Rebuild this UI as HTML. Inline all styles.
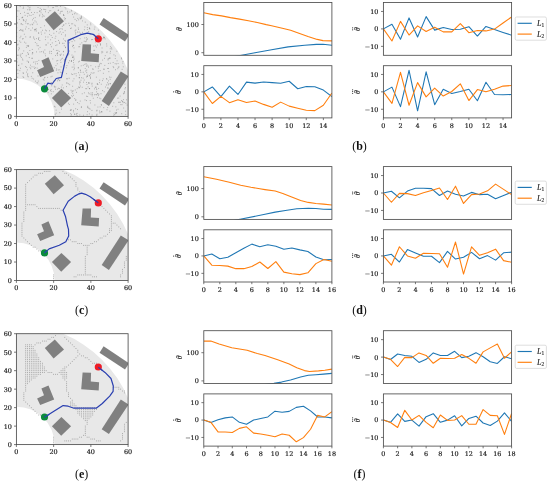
<!DOCTYPE html>
<html><head><meta charset="utf-8"><title>Figure</title>
<style>
html,body{margin:0;padding:0;background:#fff}
svg{display:block}
text{font-family:"DejaVu Serif", "Liberation Serif", serif;fill:#222}
.tl{font-size:6.45px;fill:#1a1a1a;stroke:#1a1a1a;stroke-width:0.18px}
.th{font-size:7.8px;font-style:italic;font-family:"Liberation Serif",serif;stroke:#222;stroke-width:0.15px}
.dt{font-size:5.4px;font-style:normal;font-weight:bold}
.lg{font-size:8px;font-style:italic;font-family:"Liberation Serif",serif;stroke:#222;stroke-width:0.12px}
.sb{font-size:5.4px;font-style:normal}
.cap{font-size:12px;fill:#111;font-family:"Liberation Serif",serif}
</style></head><body>
<svg width="550" height="483" viewBox="0 0 550 483">
<rect width="550" height="483" fill="#fff"/>
<clipPath id="c0"><rect x="16.4" y="5.5" width="111.7" height="110.9"/></clipPath>
<g clip-path="url(#c0)">
<path d="M16.4,-3.74 A121.01,120.14 0 0 1 137.41,116.4 L54.56,116.4 A38.16,37.89 0 0 0 16.4,78.51 Z" fill="#e8e8e8"/>
<polygon points="54.8,11.2 64,21.2 53.6,30.2 44.8,19.7" fill="#808080"/>
<polygon points="103.6,18.1 129.1,35 125,41.4 99.5,24.5" fill="#808080"/>
<polygon points="82.6,44.3 91.1,44.5 90.8,53.3 99.1,54 98.7,62.3 81.2,61.1" fill="#808080"/>
<polygon points="41.4,60.4 48.5,57.2 54.2,71.2 40.2,76.9 37.1,70.2 44,67.1" fill="#808080"/>
<polygon points="61.4,88.8 71.1,98 61.2,107.6 51.9,98" fill="#808080"/>
<polygon points="120.8,71.4 128.6,76.2 108.9,105.9 101.7,101" fill="#808080"/>
<path d="M89.11,108.37h0M76.26,75.85h0M22.88,60.13h0M20.59,68.31h0M63.82,24.7h0M80.86,72.41h0M125.45,111.23h0M36.59,51.9h0M87.77,75.1h0M77.58,109.44h0M92.4,68.98h0M51.49,51.46h0M67.02,83.16h0M105.13,38.88h0M43.67,52.7h0M75.06,19.35h0M97.88,84.47h0M125.89,103.31h0M63.1,32.43h0M33.38,62.17h0M20.78,42.29h0M101.8,52.85h0M94.06,50.48h0M81.17,65.81h0M69.36,42.75h0M23.18,38.6h0M108.21,84.84h0M59.49,42.25h0M18.92,65.2h0M22.99,31.2h0M25.4,66.59h0M77.77,18.43h0M123.38,99.66h0M82.21,87.26h0M16.86,69.94h0M57.65,53.59h0M73.98,47.91h0M91.93,110.41h0M60.23,72.15h0M27.97,46.06h0M27.73,76.08h0M19.25,19.44h0M84.99,99.93h0M44.58,77.87h0M68.45,62.74h0M54.67,87.04h0M18.98,10.94h0M75.41,100.14h0M77.07,113.4h0M35.06,30.79h0M75.89,30h0M53.22,91.66h0M56.12,113.19h0M45.35,39.6h0M123.24,66.8h0M110.28,63.23h0M89.34,27.72h0M25.87,43.14h0M100.19,63.39h0M36.34,28.88h0M61.23,11.4h0M97.36,97.55h0M32.73,24.74h0M55.54,55.55h0M75.22,12.86h0M64.86,19.72h0M44.53,83.91h0M43.27,51.36h0M31.04,15.48h0M55.92,65.59h0M81.56,16.11h0M63.38,14.62h0M72.43,57.42h0M74.88,114.33h0M16.84,27.77h0M35.65,63.89h0M52.81,58.92h0M78.44,29.42h0M28.25,54.26h0M44.16,85.69h0M102.66,60.09h0M79.15,32.12h0M118.32,67.24h0M73.61,39.58h0M66.93,57.26h0M69.8,11.99h0M29.99,67.37h0M24.57,42.16h0M33.65,36.98h0M90.15,100.54h0M40.93,10.77h0M60.89,62.36h0M34.44,68.54h0M73.99,78.79h0M38.26,81.08h0M97.06,114.24h0M78.29,67.55h0M23.58,7.15h0M20.82,30.01h0M63.57,15.32h0M107.88,87.72h0M33.08,14.46h0M80.14,38.72h0M93.27,69.23h0M24.49,12.34h0M87.27,27.5h0M25.75,21.44h0M23.84,20.72h0M67.09,78.79h0M75.26,89.96h0M51.25,82.57h0M101.24,84.24h0M72.26,96.67h0M55.16,114.39h0M37.56,63.75h0M120.8,104.61h0M107.87,68.47h0M71.69,23.84h0M60.31,60.21h0M95.34,45.87h0M61.6,77.86h0M24.3,34.24h0M25.84,23.1h0M47.89,89.54h0M34,66.96h0M45.8,9.74h0M43.7,9.31h0M50.98,76.85h0M16.52,74.08h0M69.42,60.64h0M38.85,60.42h0M26.43,72.09h0M50.38,90.58h0M100.24,43.48h0M59.91,80.23h0M126.39,99.82h0M97.29,45.07h0M21.29,23.77h0M31.96,58.32h0M72.74,23.81h0M81.64,17.39h0M92.68,39.51h0M31.27,76.4h0M28.12,23.71h0M78.79,46.78h0M86.35,40.91h0M71.05,116.03h0M72.58,57.05h0M90.04,109.08h0M98.7,88.43h0M97.87,93.64h0M71.57,73.97h0M69.91,40.58h0M102.07,47.98h0M88.2,107.81h0M99.42,82.64h0M79.82,115.02h0M91.46,39.64h0M91.88,84.14h0M74.1,64.87h0M68.49,103.26h0M18.36,65.5h0M66.6,86.61h0M39.84,11.53h0M39.94,51.91h0M32.23,58.28h0M122.82,101.69h0M108.02,59.98h0M42.25,16.84h0M70.7,113.65h0M16.8,61.87h0M66.75,82.91h0M32.12,78.25h0M16.59,33.14h0M57.98,72.83h0M56.69,68.93h0M27.76,23.83h0M48.3,12.64h0M44.25,86.93h0M73.47,95.35h0M58.1,10.36h0M96.78,110.91h0M98.2,66.4h0M100.47,44.93h0M119.92,102.28h0M69.14,78.29h0M49.66,34.44h0M125.45,87.55h0M89.67,83.04h0M78.65,72.66h0M39.62,15.93h0M71.92,92h0M54.6,106.3h0M43.11,87.75h0M80.03,18h0M100.14,70.62h0M62.63,58.27h0M58.5,78.89h0M124.49,102.44h0M72.63,46.57h0M46.67,88.85h0M61.05,66.95h0M113.9,113.98h0M20,37.72h0M116.45,63.91h0M81.99,116.38h0M60.13,13.61h0M125,88.85h0M74.75,40.76h0M88.71,31.58h0M67.48,55.24h0M20.82,29.64h0M42.38,14.38h0M88.5,82.71h0M87.47,38.93h0M74.98,51.76h0M83.54,115.24h0M115.12,63.69h0M72.06,41.6h0M63.32,87.87h0M92.64,94.43h0M72.79,93.64h0M41.14,32.06h0M49.34,10.83h0M71.78,95.63h0M32.75,72.77h0M40.19,8.37h0M23.12,72.78h0M37.12,12.61h0M99.76,112.86h0M90.62,74.41h0M58.16,79.61h0M47.65,77.42h0M123.13,102.68h0M124.11,93.4h0M108.22,68.44h0M21.9,63.89h0M37.96,76h0M116.59,113.04h0M62.29,26.37h0M102.04,111.89h0M54.27,86.2h0M45.68,36.93h0M51.75,85.83h0M16.82,32.6h0M121.76,113.71h0M59.57,88.56h0M64.42,61.67h0M120.07,96.11h0M84.23,80.05h0M52.09,76.27h0M103.78,107.64h0M38.44,32.9h0M20.18,55.12h0M52.79,7.69h0M27.17,61.12h0M95.68,66.83h0M85.69,41.64h0M90.62,102.96h0M110.33,83.82h0M79.72,75.04h0M98.84,94.31h0M44.04,89.19h0M33.53,18.35h0M80.99,80.21h0M60.64,6.34h0M73.07,90.74h0M106.7,43.95h0M127.09,105.05h0M69.43,25.56h0M113.15,66.59h0M45.44,30.14h0M122.03,104.67h0M44.87,49.92h0M89.19,93.84h0M92.17,95.87h0M51.27,93.84h0M105.23,55.62h0M60.55,55.39h0M87.8,106.29h0M34.68,39.28h0M62.17,84.98h0M50.76,10.69h0M51.29,53.57h0M56.3,70.22h0M97.72,93.81h0M17.06,16.41h0M63.73,25.42h0M18.06,55.23h0M26.34,47.4h0M57.82,60.46h0M74.61,13.76h0M28.55,62h0M70.32,110.48h0M104.18,91.77h0M74.25,73.86h0M20.99,54.04h0M101.01,112.17h0M86.44,82.44h0M63.32,51.79h0M63.96,43.33h0M66.31,67.79h0M19.01,47.76h0M71.08,90.31h0M69.26,104.53h0M30.75,68.65h0M26.64,67.39h0M73.39,111.88h0M87.49,107.28h0M98.33,30.16h0M73.53,110.38h0M72.69,74.5h0M122.61,101.3h0M38.04,7.53h0M71.34,10.31h0M118.72,98.09h0M23.72,77.49h0M100.87,98.79h0M72.5,14.38h0M72.92,81.01h0M34.41,12.55h0M35.25,29.36h0M29.25,57.54h0M87.48,76.5h0M113.91,54.83h0M81.19,18.53h0M28.08,6.28h0M86.75,72.68h0M105.5,87.04h0M56.64,31.6h0M99.46,111.04h0M107.97,88.27h0M81.84,42.8h0M85.21,68.47h0M73.67,17.08h0M89.35,113.93h0M16.69,77.03h0M28.28,76.79h0M41.45,51.68h0M82.2,93.76h0M86.09,63.73h0M31.45,12.53h0M27.1,45.62h0M61.3,87.1h0M17.68,44.88h0M79.21,77.55h0M88.51,67.19h0M44.16,16.2h0M21.32,57.45h0M22.92,30.02h0M17.78,55.3h0M121.5,100.62h0M38.69,48.96h0M73.03,45.25h0M50.96,83.1h0M21.82,17.77h0M103.86,37.06h0M17.11,22.75h0M99.64,64.8h0M99.25,66.22h0M53.88,33.26h0M95.9,86.9h0M78.26,68.04h0M104.47,58.37h0M46.03,45.2h0M124.21,92.34h0M114.7,114.71h0M45.48,90.22h0M99.75,80.15h0M43.12,15.75h0M86.85,39.56h0M68.84,23.28h0M65.24,36.04h0M80.11,82.27h0M40.08,47.35h0M25.09,15.39h0M28.32,13.38h0M93.77,46.1h0M94.26,34.69h0M23.75,50.92h0M23.77,20.16h0M87.24,24.9h0M86.94,84.53h0M101,93.67h0M47.97,37.02h0M57.51,80.82h0M111.5,47.83h0M19.86,70.61h0M65.15,30.67h0M55.14,38.25h0M76.48,92.38h0M112.71,106.32h0M16.89,61.97h0M71.3,28.04h0M37.01,61.55h0M45.51,11.72h0M48.09,92.59h0M28.68,45.81h0M25.43,29.02h0M94.27,29.13h0M86.54,76.96h0M61.22,72.64h0M115.86,106.84h0M115.64,113.61h0M117.07,60.82h0M75.77,32.73h0M100.51,44.73h0M55.33,80.17h0M33.75,22.9h0M90.36,34.11h0M35.34,67.74h0M102.79,52.17h0M30.48,65.16h0M37.8,82.96h0M44.05,80.18h0M74.73,98.55h0M27.77,9.67h0M27.75,73.79h0M98.31,68.17h0M38.31,45.65h0M59.78,112.64h0M60.97,28.68h0M87.04,65.02h0M32.24,49.45h0M61.61,34.23h0M117.82,68.71h0M80.51,33.32h0M102.86,38.76h0M88.06,66.06h0M51.36,46.72h0M27.33,69.87h0M103.79,37.31h0M86.73,88.67h0M63.71,65.92h0M85.83,71h0M36.85,43.82h0M103.32,73.29h0M20.66,56.14h0M34.37,29.7h0M121.46,58.82h0M27.69,52.68h0M76.83,36.85h0M73.61,45.51h0M109,58.54h0M62.24,11.27h0M39.87,40.5h0M60.24,31.82h0M30.07,7.22h0M56.11,110.12h0M17.89,69.98h0M63.38,38.96h0M55.73,86.99h0M41.47,34.17h0M121.39,57.95h0M40.85,27.52h0M30.84,30.27h0M106.83,46.06h0M68.81,54.07h0M41.64,9.51h0M55.84,45.56h0M68.69,83.76h0M77.64,102.52h0M109.53,77.06h0M58.42,88.28h0M16.7,36.35h0M47.81,89.23h0M64.26,45.72h0M90.04,76.21h0M22.77,24.59h0M32.08,24.21h0M87.12,114.74h0M17.68,10.85h0M89.67,88.67h0M42.5,30.31h0M35.16,17.57h0M84.35,29.76h0M38.45,39.57h0M75.69,34.12h0M65.39,18.51h0M78.4,87.07h0M71.48,109.92h0M71.29,61.15h0M76.67,20.71h0M17.14,23.16h0M68.67,54.01h0M90.71,23.18h0M58.28,69.95h0M123.7,108.04h0M19.59,48.79h0M53.31,7.53h0M73.44,62.65h0M116.66,112.64h0M96.62,47.06h0M57.3,63.77h0M75.1,30.94h0M63.58,54.96h0M108.75,83.92h0M108.86,71.63h0M72.67,86.27h0M89.51,28.57h0M53.36,81.23h0M49.82,51.36h0M87.31,29.43h0M20.87,36.26h0M115.32,55.92h0M89.9,28.9h0M94.19,50.27h0M92.47,92.83h0M90.9,65.62h0M101.59,105.16h0M89.64,75.49h0M79.19,87.79h0M22.5,53.46h0M106.91,52.6h0M119.01,66.89h0M17.98,73.47h0M88.39,92.86h0M16.93,40.57h0M29.99,9.23h0M26.25,19.97h0M96.75,89.53h0M98.34,95.62h0M22,30.56h0M97.91,107.05h0M86.62,37.75h0M67.85,13h0M44.78,9.46h0M96.51,115.14h0M18.05,44.24h0M107.7,107.56h0M51.15,35.5h0M34.94,20.92h0M70.72,109.77h0M57.46,52.64h0M65.41,41.33h0M32.59,27.97h0M56.98,44.88h0M86.74,70.05h0M59.49,29.21h0M79.71,83.97h0M23.17,8.39h0M53.49,49.21h0M83.55,82.18h0M64.27,17.91h0M58.47,40.45h0M106.6,84.98h0M63.59,51.34h0M21.12,23.99h0M80.28,86.03h0M55.14,106.97h0M78.25,27.97h0M38.79,33.2h0M84.19,41.25h0M68.38,93.49h0M44.85,33.1h0M104.83,65.42h0M26.2,26.95h0M102.65,90.58h0M81.14,16.93h0M115.26,58.53h0M69.63,51.04h0M36.58,38.65h0M56.93,53.8h0M61.36,59.04h0M28.25,46.23h0M83.11,78.15h0M74.42,114.12h0M20.15,6.56h0M113.14,62.47h0M79.75,87.39h0M103.44,69.16h0M78.66,19.84h0M67.59,11.35h0M118.04,109.28h0M83.2,72.33h0M29.79,10.01h0M45.13,53.8h0M91.21,72.8h0M44.98,77.36h0M109.92,111.18h0M104.24,37.7h0M92.01,83.26h0M82.47,32.35h0M92.09,115h0M96.51,94.76h0M20.42,13.52h0M41.04,12.82h0M32.01,66.8h0M27.23,13.4h0M110.48,46.71h0M66.93,78.72h0M108.34,63.44h0M86.57,100.57h0M32.56,19.84h0M110.18,79.3h0M35.14,61.95h0M29.15,7.87h0M22.75,17.14h0M91.05,92.98h0M69.73,84.66h0M57.09,6.5h0M116.51,110.03h0M97.55,83.85h0M125.71,114.62h0M106.54,78.59h0M109.36,58h0M37.16,68.13h0M80.22,101.09h0M36.52,30.96h0M95.89,94.58h0M84.81,37.91h0M107.05,51.75h0M98.24,71.14h0M97.01,110.26h0M106.95,79.22h0M71.47,114.69h0M118.07,63.54h0M37.18,24.17h0M57.86,50.43h0M16.92,58.75h0M66.19,59.22h0M29.89,37.15h0M52.25,37.53h0M59,33.08h0M23.24,19.61h0M122.97,61.53h0M73.74,57.57h0M76.42,114.11h0M124.46,91.59h0M44.38,25.78h0M94.47,94.77h0M18.38,49.93h0M94.89,104.99h0M71.53,60.87h0M82.51,20.91h0M32.84,52.87h0M99.79,98.18h0M59.82,69.77h0M110.2,58.11h0M60.59,12.01h0M103.18,78.85h0M43.25,79.24h0M65.05,7.58h0M22.38,59.02h0M87.07,75.98h0M75.69,108.72h0M64.77,60.42h0M115.21,112.59h0M88.06,86.93h0M92.18,86.08h0M76.97,13.89h0M85.79,88.61h0M74.52,68.3h0M50.51,44.59h0M29.85,50.49h0M76.03,99.94h0M48.6,89.41h0M26.21,55.81h0M110.2,48.76h0M80.09,44.28h0M38.87,37.62h0M67.88,55.62h0M84.85,64.39h0M51.08,89.53h0M59.2,51.45h0M17.73,77.29h0M78.58,61.9h0M48.21,6.89h0M49.41,30.77h0M113.72,67.61h0M23.33,73.38h0M65.54,34.84h0M33.66,79.02h0M55.77,41.5h0M85.24,22.14h0M108.13,58.98h0M98.92,33.97h0M101.26,63.7h0M104.08,37.82h0M118.57,102.29h0M113.67,115.92h0M101.93,51.43h0M80.29,70.05h0M84.24,74.31h0M66.92,65.62h0M97.17,83.92h0M60.04,54.81h0M59.35,80.69h0M72.2,67.16h0M36.98,82.68h0M32.6,52.58h0M81.36,106.65h0M123.49,93.74h0M64.03,15.42h0M79.5,61.25h0M74.2,59.04h0M92.94,73.2h0M56.36,50.45h0M27.45,74.88h0M61.18,54.15h0M80.52,18.83h0M65.57,47.13h0M75.62,25.92h0M35.47,81.13h0M73.66,104.14h0M115.61,69.72h0M73.55,60.41h0M55.85,6.19h0M87.5,111.71h0M62.36,29.05h0M50.66,39.8h0M110.47,51.39h0M91.03,94.59h0M72.01,55.04h0M46.11,44.67h0M80.57,70.81h0M101.24,104.57h0M74.76,25.11h0M84.87,26.95h0M102.47,80.6h0M96.32,77.16h0M27.51,16.16h0M81.44,77.71h0M66.65,73.63h0M22.51,17.64h0M65.51,47.62h0M107.54,82.72h0M71.75,11.08h0M96.65,91.85h0M70.51,28.48h0M124.92,84.16h0M79.12,103.66h0M76.02,73.64h0M61.44,109.14h0M30.17,24.82h0M55.63,89.24h0M90.6,78.54h0M33.81,38.12h0M65.92,23.65h0M55.82,36.28h0M58.5,10.11h0M39.64,10.94h0M72.79,91.2h0M95.31,87.48h0M116.89,51.24h0M57.51,89.09h0M84.34,92.83h0M113.85,102.78h0M73.71,56.23h0M46.6,30.81h0M59.38,43.48h0M79.81,81.93h0M36.18,22.02h0M52.26,42.9h0M28.57,54.08h0M56.78,60.91h0M51.17,91.29h0M30.49,36.92h0M19.7,41.03h0M90.53,77.43h0M62.48,43.31h0M94.51,88.85h0M110.98,77.35h0M86.64,96.25h0M29.27,15.18h0M98.39,37.37h0M87.7,96.47h0M110.17,53.17h0M96.45,88.15h0M64.98,40.51h0M55.39,116.29h0M111.81,49.04h0M28.82,28.63h0M39.87,14.98h0M100.12,106.85h0M94,72.75h0M122.11,69.38h0M86.56,66.19h0M22.47,38.96h0M64.25,59.63h0M120.07,102.24h0M101.51,111.55h0M94.9,27.04h0M45.58,55.8h0M77.16,88.71h0M23.03,76.72h0M95.37,42.06h0M73.97,67.05h0M32.25,53.93h0M77.64,32.06h0M35.3,42.48h0M83.27,65.26h0M38.42,38.59h0M25.78,36.87h0M28.55,62.18h0M77.06,115.48h0M89.3,88.52h0M19.49,30.51h0M110.18,83.54h0M37.15,45.63h0M35.22,29.39h0M108.59,80.89h0M57.56,55.28h0M79.72,46.73h0M71.62,61h0M81.31,107.5h0M93.25,98.25h0M65.9,8.85h0M97.15,116.09h0M104.3,69.22h0M48.04,43.03h0M73.88,69.69h0M54.23,67.75h0M90.8,24.79h0M117.38,98.16h0M79.33,77.8h0M107.01,109.75h0M49.58,53.06h0M122.83,63.09h0M88.71,83.21h0" stroke="#444" stroke-opacity="0.66" stroke-width="0.62" stroke-linecap="round" fill="none"/>
<polyline points="44.5,88.8 47.9,83.1 52.1,84 56.2,78.5 61.4,77.4 63.5,68.6 65.5,59.3 68.3,52.5 68.1,40.4 80.7,34.7 87.4,33.1 93.1,34.3 98.3,38.8" fill="none" stroke="#2a3fb0" stroke-width="1.2" stroke-linejoin="round"/>
<circle cx="98.3" cy="38.8" r="3.6" fill="#ee1c25"/>
<circle cx="44.5" cy="88.8" r="3.6" fill="#0b8a3c"/>
<polyline points="44.5,88.8 46.54,85.38" fill="none" stroke="#2a3fb0" stroke-width="1.2"/>
<polyline points="98.3,38.8 95.18,36.1" fill="none" stroke="#2a3fb0" stroke-width="1.2"/>
</g>
<rect x="16.4" y="5.5" width="111.7" height="110.9" fill="none" stroke="#4d4d4d" stroke-width="0.85"/>
<text x="11.9" y="118.8" text-anchor="end" class="tl">0</text>
<text x="11.9" y="100.32" text-anchor="end" class="tl">10</text>
<text x="11.9" y="81.83" text-anchor="end" class="tl">20</text>
<text x="11.9" y="63.35" text-anchor="end" class="tl">30</text>
<text x="11.9" y="44.87" text-anchor="end" class="tl">40</text>
<text x="11.9" y="26.38" text-anchor="end" class="tl">50</text>
<text x="11.9" y="7.9" text-anchor="end" class="tl">60</text>
<text x="16.4" y="126.1" text-anchor="middle" class="tl">0</text>
<text x="53.63" y="126.1" text-anchor="middle" class="tl">20</text>
<text x="90.87" y="126.1" text-anchor="middle" class="tl">40</text>
<text x="128.1" y="126.1" text-anchor="middle" class="tl">60</text>
<path d="M16.4,116.4h-2.4M16.4,97.92h-2.4M16.4,79.43h-2.4M16.4,60.95h-2.4M16.4,42.47h-2.4M16.4,23.98h-2.4M16.4,5.5h-2.4M16.4,116.4v2.4M53.63,116.4v2.4M90.87,116.4v2.4M128.1,116.4v2.4" stroke="#4d4d4d" stroke-width="0.75" fill="none"/>
<clipPath id="k1"><rect x="203.8" y="2.5" width="128.1" height="52.8"/></clipPath>
<g clip-path="url(#k1)" fill="none" stroke-width="1.08" stroke-linejoin="round">
<polyline points="203.8,12.7 212.7,14.6 221.6,15.9 230.5,17.6 239.5,19.1 248.4,20.7 257.3,22.5 266.2,24.6 271.6,25.7 282.3,28.2 290.6,30.3 298.9,33.2 308,36.5 317.2,39.4 323,40.6 332.1,40.9" stroke="#ff7f0e"/>
<polyline points="203.8,62.1 241.6,55.2 255,52.8 271.6,49.7 288.1,46.9 304.7,45.2 316.3,44.4 323,44.3 332.1,45.2" stroke="#1f77b4"/>
</g>
<rect x="203.8" y="2.5" width="128.1" height="52.8" fill="none" stroke="#4d4d4d" stroke-width="0.85"/>
<text x="198.8" y="55.1" text-anchor="end" class="tl">0</text>
<text x="198.8" y="26.9" text-anchor="end" class="tl">100</text>
<path d="M203.8,52.7h-2.4M203.8,24.5h-2.4" stroke="#4d4d4d" stroke-width="0.75" fill="none"/>
<text transform="translate(182,29.2) rotate(-90)" class="th"><tspan x="-1.9" y="0">θ</tspan></text>
<clipPath id="k2"><rect x="203.8" y="65.7" width="128.1" height="52.2"/></clipPath>
<g clip-path="url(#k2)" fill="none" stroke-width="1.08" stroke-linejoin="round">
<polyline points="203.8,91.85 212.34,86.98 220.88,96.55 229.42,86.11 237.96,94.46 246.5,82.11 255.04,83.15 263.58,81.93 272.12,82.63 280.66,83.32 289.2,81.24 297.74,88.72 306.28,86.46 314.82,86.8 323.36,90.11 331.9,96.55" stroke="#1f77b4"/>
<polyline points="203.8,91.85 212.34,103.51 220.88,96.37 229.42,102.64 237.96,99.68 246.5,102.46 255.04,101.07 263.58,104.38 272.12,107.16 280.66,102.12 289.2,106.12 297.74,108.21 306.28,110.29 314.82,110.64 323.36,105.25 331.9,93.07" stroke="#ff7f0e"/>
</g>
<rect x="203.8" y="65.7" width="128.1" height="52.2" fill="none" stroke="#4d4d4d" stroke-width="0.85"/>
<text x="198.8" y="111.65" text-anchor="end" class="tl">−10</text>
<text x="198.8" y="94.25" text-anchor="end" class="tl">0</text>
<text x="198.8" y="76.85" text-anchor="end" class="tl">10</text>
<text x="203.8" y="127.7" text-anchor="middle" class="tl">0</text>
<text x="220.88" y="127.7" text-anchor="middle" class="tl">2</text>
<text x="237.96" y="127.7" text-anchor="middle" class="tl">4</text>
<text x="255.04" y="127.7" text-anchor="middle" class="tl">6</text>
<text x="272.12" y="127.7" text-anchor="middle" class="tl">8</text>
<text x="289.2" y="127.7" text-anchor="middle" class="tl">10</text>
<text x="306.28" y="127.7" text-anchor="middle" class="tl">12</text>
<text x="323.36" y="127.7" text-anchor="middle" class="tl">14</text>
<path d="M203.8,109.25h-2.4M203.8,91.85h-2.4M203.8,74.45h-2.4M203.8,117.9v2.2M220.88,117.9v2.2M237.96,117.9v2.2M255.04,117.9v2.2M272.12,117.9v2.2M289.2,117.9v2.2M306.28,117.9v2.2M323.36,117.9v2.2" stroke="#4d4d4d" stroke-width="0.75" fill="none"/>
<text transform="translate(180.5,92.1) rotate(-90)" class="th"><tspan x="-1.9" y="0">θ</tspan><tspan class="dt" x="-0.78" y="-5.0">·</tspan></text>
<clipPath id="k3"><rect x="383.4" y="2.5" width="128.2" height="52.8"/></clipPath>
<g clip-path="url(#k3)" fill="none" stroke-width="1.08" stroke-linejoin="round">
<polyline points="383.4,28.9 391.95,24.19 400.49,39.2 409.04,17.91 417.59,36.93 426.13,16.6 434.68,30.12 443.23,27.5 451.77,29.51 460.32,29.25 468.87,26.72 477.41,36.05 485.96,26.46 494.51,29.51 503.05,32.39 511.6,35.18" stroke="#1f77b4"/>
<polyline points="383.4,28.9 391.95,40.94 400.49,21.4 409.04,35.01 417.59,25.85 426.13,31.43 434.68,27.33 443.23,31.87 451.77,31.87 460.32,23.58 468.87,32.74 477.41,30.56 485.96,30.91 494.51,29.07 503.05,22.97 511.6,17.03" stroke="#ff7f0e"/>
</g>
<rect x="383.4" y="2.5" width="128.2" height="52.8" fill="none" stroke="#4d4d4d" stroke-width="0.85"/>
<text x="378.4" y="48.75" text-anchor="end" class="tl">−10</text>
<text x="378.4" y="31.3" text-anchor="end" class="tl">0</text>
<text x="378.4" y="13.85" text-anchor="end" class="tl">10</text>
<path d="M383.4,46.35h-2.4M383.4,28.9h-2.4M383.4,11.45h-2.4" stroke="#4d4d4d" stroke-width="0.75" fill="none"/>
<text transform="translate(360.1,29.2) rotate(-90)" class="th"><tspan x="-1.9" y="0">θ</tspan><tspan class="dt" x="-1.45" y="-5.0">··</tspan></text>
<clipPath id="k4"><rect x="383.4" y="65.7" width="128.2" height="52.2"/></clipPath>
<g clip-path="url(#k4)" fill="none" stroke-width="1.08" stroke-linejoin="round">
<polyline points="383.4,91.85 391.95,87.15 400.49,106.64 409.04,70.27 417.59,110.82 426.13,71.84 434.68,104.73 443.23,89.24 451.77,93.5 460.32,91.5 468.87,89.24 477.41,100.72 485.96,82.28 494.51,94.46 503.05,94.81 511.6,94.46" stroke="#1f77b4"/>
<polyline points="383.4,91.85 391.95,103.33 400.49,72.36 409.04,105.25 417.59,82.63 426.13,96.9 434.68,88.02 443.23,96.03 451.77,91.5 460.32,83.85 468.87,100.55 477.41,89.59 485.96,91.85 494.51,89.24 503.05,86.11 511.6,85.5" stroke="#ff7f0e"/>
</g>
<rect x="383.4" y="65.7" width="128.2" height="52.2" fill="none" stroke="#4d4d4d" stroke-width="0.85"/>
<text x="378.4" y="111.65" text-anchor="end" class="tl">−10</text>
<text x="378.4" y="94.25" text-anchor="end" class="tl">0</text>
<text x="378.4" y="76.85" text-anchor="end" class="tl">10</text>
<text x="383.4" y="127.7" text-anchor="middle" class="tl">0</text>
<text x="400.49" y="127.7" text-anchor="middle" class="tl">2</text>
<text x="417.59" y="127.7" text-anchor="middle" class="tl">4</text>
<text x="434.68" y="127.7" text-anchor="middle" class="tl">6</text>
<text x="451.77" y="127.7" text-anchor="middle" class="tl">8</text>
<text x="468.87" y="127.7" text-anchor="middle" class="tl">10</text>
<text x="485.96" y="127.7" text-anchor="middle" class="tl">12</text>
<text x="503.05" y="127.7" text-anchor="middle" class="tl">14</text>
<path d="M383.4,109.25h-2.4M383.4,91.85h-2.4M383.4,74.45h-2.4M383.4,117.9v2.2M400.49,117.9v2.2M417.59,117.9v2.2M434.68,117.9v2.2M451.77,117.9v2.2M468.87,117.9v2.2M485.96,117.9v2.2M503.05,117.9v2.2" stroke="#4d4d4d" stroke-width="0.75" fill="none"/>
<text transform="translate(360.1,92.1) rotate(-90)" class="th"><tspan x="-1.9" y="0">θ</tspan><tspan class="dt" x="-2.13" y="-5.0">···</tspan></text>
<rect x="515.2" y="17" width="31.2" height="23.2" rx="1.4" fill="#fff" stroke="#d0d0d0" stroke-width="0.7"/>
<path d="M517.6,23.3H531.8" stroke="#1f77b4" stroke-width="1.15"/>
<path d="M517.6,34.1H531.8" stroke="#ff7f0e" stroke-width="1.15"/>
<text x="537.1" y="25.7" class="lg">L<tspan class="sb" dy="1.2">1</tspan></text>
<text x="537.1" y="36.5" class="lg">L<tspan class="sb" dy="1.2">2</tspan></text>
<clipPath id="c1"><rect x="16.4" y="169.6" width="111.7" height="110.9"/></clipPath>
<g clip-path="url(#c1)">
<path d="M16.4,160.36 A121.01,120.14 0 0 1 137.41,280.5 L54.56,280.5 A38.16,37.89 0 0 0 16.4,242.61 Z" fill="#e8e8e8"/>
<polygon points="54.8,175.3 64,185.3 53.6,194.3 44.8,183.8" fill="#808080"/>
<polygon points="103.6,182.2 129.1,199.1 125,205.5 99.5,188.6" fill="#808080"/>
<polygon points="82.6,208.4 91.1,208.6 90.8,217.4 99.1,218.1 98.7,226.4 81.2,225.2" fill="#808080"/>
<polygon points="41.4,224.5 48.5,221.3 54.2,235.3 40.2,241 37.1,234.3 44,231.2" fill="#808080"/>
<polygon points="61.4,252.9 71.1,262.1 61.2,271.7 51.9,262.1" fill="#808080"/>
<polygon points="120.8,235.5 128.6,240.3 108.9,270 101.7,265.1" fill="#808080"/>
<path d="M21.98,236.14h0M21.98,234.29h0M21.98,232.44h0M21.98,230.59h0M21.98,228.75h0M21.98,226.9h0M21.98,225.05h0M21.98,223.2h0M23.85,237.99h0M23.85,221.35h0M23.85,219.5h0M23.85,217.66h0M23.85,215.81h0M23.85,213.96h0M23.85,212.11h0M25.71,239.84h0M25.71,210.26h0M25.71,208.41h0M25.71,206.57h0M25.71,204.72h0M25.71,202.87h0M25.71,201.02h0M25.71,199.17h0M25.71,197.32h0M25.71,195.48h0M25.71,193.63h0M25.71,191.78h0M25.71,189.93h0M25.71,188.08h0M25.71,186.24h0M25.71,184.39h0M27.57,241.69h0M27.57,204.72h0M27.57,182.54h0M29.43,243.53h0M29.43,204.72h0M29.43,180.69h0M31.29,245.38h0M31.29,204.72h0M31.29,178.84h0M33.16,247.23h0M33.16,204.72h0M33.16,176.99h0M35.02,247.23h0M35.02,204.72h0M35.02,175.14h0M36.88,249.08h0M36.88,206.57h0M36.88,175.14h0M38.74,250.93h0M38.74,208.41h0M38.74,173.3h0M40.6,250.93h0M40.6,208.41h0M40.6,173.3h0M42.46,208.41h0M42.46,173.3h0M44.32,208.41h0M44.32,171.45h0M46.19,208.41h0M46.19,171.45h0M48.05,208.41h0M48.05,171.45h0M49.91,208.41h0M49.91,171.45h0M51.77,208.41h0M53.63,280.5h0M53.63,278.65h0M53.63,276.8h0M53.63,274.95h0M53.63,208.41h0M55.49,208.41h0M57.36,208.41h0M59.22,208.41h0M61.08,210.26h0M62.94,210.26h0M62.94,171.45h0M64.8,173.3h0M66.66,239.84h0M66.66,173.3h0M68.53,239.84h0M68.53,175.14h0M70.39,239.84h0M70.39,176.99h0M72.25,241.69h0M72.25,178.84h0M74.11,276.8h0M74.11,241.69h0M74.11,180.69h0M75.97,276.8h0M75.97,241.69h0M75.97,186.24h0M75.97,184.39h0M75.97,182.54h0M77.83,274.95h0M77.83,243.53h0M77.83,189.93h0M77.83,188.08h0M79.7,274.95h0M79.7,243.53h0M79.7,193.63h0M79.7,191.78h0M81.56,274.95h0M81.56,243.53h0M83.42,274.95h0M83.42,245.38h0M85.28,274.95h0M85.28,273.11h0M85.28,271.26h0M85.28,269.41h0M85.28,267.56h0M85.28,265.71h0M85.28,263.87h0M85.28,262.02h0M85.28,260.17h0M85.28,258.32h0M85.28,256.47h0M85.28,245.38h0M87.14,274.95h0M87.14,254.62h0M87.14,252.78h0M87.14,250.93h0M87.14,249.08h0M87.14,247.23h0M87.14,245.38h0M89,274.95h0M89,245.38h0M90.87,274.95h0M90.87,243.53h0M92.73,276.8h0M92.73,243.53h0M94.59,276.8h0M94.59,241.69h0M96.45,276.8h0M96.45,241.69h0M98.31,239.84h0M100.17,237.99h0M100.17,204.72h0M102.04,237.99h0M102.04,206.57h0M103.9,236.14h0M103.9,208.41h0M105.76,236.14h0M105.76,210.26h0M107.62,234.29h0M107.62,212.11h0M109.48,232.44h0M109.48,230.59h0M109.48,228.75h0M109.48,213.96h0M111.34,230.59h0M111.34,228.75h0M111.34,226.9h0M111.34,225.05h0M111.34,223.2h0M111.34,221.35h0M111.34,219.5h0M111.34,217.66h0M111.34,215.81h0M113.21,223.2h0M115.07,223.2h0M116.93,225.05h0M118.79,226.9h0M120.65,276.8h0M120.65,274.95h0M120.65,228.75h0M122.51,273.11h0M122.51,271.26h0M122.51,269.41h0M124.38,267.56h0M124.38,265.71h0M124.38,263.87h0M124.38,262.02h0M126.24,260.17h0M126.24,258.32h0M126.24,256.47h0" stroke="#808080" stroke-opacity="0.8" stroke-width="0.9" stroke-linecap="round" fill="none"/>
<polyline points="44.4,253 49.1,248.9 59.3,245.3 65.8,241.7 68.7,235.9 68.5,229.3 67.5,225.8 65.6,216.8 63.1,210.3 68.2,201.2 74.7,196.1 78.2,194.2 81.6,193.2 85.5,194.3 90.2,196.8 98.3,202.8" fill="none" stroke="#2a3fb0" stroke-width="1.2" stroke-linejoin="round"/>
<circle cx="98.3" cy="202.9" r="3.6" fill="#ee1c25"/>
<circle cx="44.5" cy="252.9" r="3.6" fill="#0b8a3c"/>
<polyline points="44.4,253 47.22,250.54" fill="none" stroke="#2a3fb0" stroke-width="1.2"/>
<polyline points="98.3,202.8 93.44,199.2" fill="none" stroke="#2a3fb0" stroke-width="1.2"/>
</g>
<rect x="16.4" y="169.6" width="111.7" height="110.9" fill="none" stroke="#4d4d4d" stroke-width="0.85"/>
<text x="11.9" y="282.9" text-anchor="end" class="tl">0</text>
<text x="11.9" y="264.42" text-anchor="end" class="tl">10</text>
<text x="11.9" y="245.93" text-anchor="end" class="tl">20</text>
<text x="11.9" y="227.45" text-anchor="end" class="tl">30</text>
<text x="11.9" y="208.97" text-anchor="end" class="tl">40</text>
<text x="11.9" y="190.48" text-anchor="end" class="tl">50</text>
<text x="11.9" y="172" text-anchor="end" class="tl">60</text>
<text x="16.4" y="290.2" text-anchor="middle" class="tl">0</text>
<text x="53.63" y="290.2" text-anchor="middle" class="tl">20</text>
<text x="90.87" y="290.2" text-anchor="middle" class="tl">40</text>
<text x="128.1" y="290.2" text-anchor="middle" class="tl">60</text>
<path d="M16.4,280.5h-2.4M16.4,262.02h-2.4M16.4,243.53h-2.4M16.4,225.05h-2.4M16.4,206.57h-2.4M16.4,188.08h-2.4M16.4,169.6h-2.4M16.4,280.5v2.4M53.63,280.5v2.4M90.87,280.5v2.4M128.1,280.5v2.4" stroke="#4d4d4d" stroke-width="0.75" fill="none"/>
<clipPath id="k5"><rect x="203.8" y="166.6" width="128.1" height="52.8"/></clipPath>
<g clip-path="url(#k5)" fill="none" stroke-width="1.08" stroke-linejoin="round">
<polyline points="203.8,176.7 216.5,179.3 229.3,182.2 240.7,185.3 250.9,187.3 259.8,188.8 265,189.6 275.2,191 282.8,193.5 291.7,197.1 300.6,200.5 308.3,202.4 315.9,203.5 323.5,204.1 331.9,205" stroke="#ff7f0e"/>
<polyline points="203.8,226 240.1,219.3 265,214.3 275.2,212.1 285.4,210.5 296.8,208.8 308.3,208.2 315.9,208.5 323.5,209.2 331.9,209.4" stroke="#1f77b4"/>
</g>
<rect x="203.8" y="166.6" width="128.1" height="52.8" fill="none" stroke="#4d4d4d" stroke-width="0.85"/>
<text x="198.8" y="219.2" text-anchor="end" class="tl">0</text>
<text x="198.8" y="191" text-anchor="end" class="tl">100</text>
<path d="M203.8,216.8h-2.4M203.8,188.6h-2.4" stroke="#4d4d4d" stroke-width="0.75" fill="none"/>
<text transform="translate(182,193.3) rotate(-90)" class="th"><tspan x="-1.9" y="0">θ</tspan></text>
<clipPath id="k6"><rect x="203.8" y="229.8" width="128.1" height="52.2"/></clipPath>
<g clip-path="url(#k6)" fill="none" stroke-width="1.08" stroke-linejoin="round">
<polyline points="203.8,255.95 211.81,254.04 219.81,258.73 227.82,257.17 235.82,252.82 243.83,248.29 251.84,244.12 259.84,246.73 267.85,244.81 275.86,246.21 283.86,249.16 291.87,247.95 299.88,249.86 307.88,251.51 315.89,256.99 323.89,259.78 331.9,259.43" stroke="#1f77b4"/>
<polyline points="203.8,255.95 211.81,265.17 219.81,265.52 227.82,266.13 235.82,268.65 243.83,268.65 251.84,266.56 259.84,262.04 267.85,268.48 275.86,261.69 283.86,272.13 291.87,273.7 299.88,274.65 307.88,272.83 315.89,263.61 323.89,259.52 331.9,261.34" stroke="#ff7f0e"/>
</g>
<rect x="203.8" y="229.8" width="128.1" height="52.2" fill="none" stroke="#4d4d4d" stroke-width="0.85"/>
<text x="198.8" y="275.75" text-anchor="end" class="tl">−10</text>
<text x="198.8" y="258.35" text-anchor="end" class="tl">0</text>
<text x="198.8" y="240.95" text-anchor="end" class="tl">10</text>
<text x="203.8" y="291.8" text-anchor="middle" class="tl">0</text>
<text x="219.81" y="291.8" text-anchor="middle" class="tl">2</text>
<text x="235.82" y="291.8" text-anchor="middle" class="tl">4</text>
<text x="251.84" y="291.8" text-anchor="middle" class="tl">6</text>
<text x="267.85" y="291.8" text-anchor="middle" class="tl">8</text>
<text x="283.86" y="291.8" text-anchor="middle" class="tl">10</text>
<text x="299.88" y="291.8" text-anchor="middle" class="tl">12</text>
<text x="315.89" y="291.8" text-anchor="middle" class="tl">14</text>
<text x="331.9" y="291.8" text-anchor="middle" class="tl">16</text>
<path d="M203.8,273.35h-2.4M203.8,255.95h-2.4M203.8,238.55h-2.4M203.8,282v2.2M219.81,282v2.2M235.82,282v2.2M251.84,282v2.2M267.85,282v2.2M283.86,282v2.2M299.88,282v2.2M315.89,282v2.2M331.9,282v2.2" stroke="#4d4d4d" stroke-width="0.75" fill="none"/>
<text transform="translate(180.5,256.2) rotate(-90)" class="th"><tspan x="-1.9" y="0">θ</tspan><tspan class="dt" x="-0.78" y="-5.0">·</tspan></text>
<clipPath id="k7"><rect x="383.4" y="166.6" width="128.2" height="52.8"/></clipPath>
<g clip-path="url(#k7)" fill="none" stroke-width="1.08" stroke-linejoin="round">
<polyline points="383.4,193 391.41,191.25 399.42,197.8 407.44,191.08 415.45,188.29 423.46,188.29 431.48,188.64 439.49,195.53 447.5,191.08 455.51,194.22 463.52,195.97 471.54,192.39 479.55,194.66 487.56,194.22 495.58,198.76 503.59,195.53 511.6,192.13" stroke="#1f77b4"/>
<polyline points="383.4,193 391.41,202.25 399.42,193.35 407.44,193.61 415.45,195.53 423.46,192.74 431.48,190.47 439.49,188.03 447.5,199.46 455.51,186.19 463.52,203.47 471.54,194.66 479.55,194.05 487.56,190.82 495.58,184.1 503.59,189.34 511.6,194.66" stroke="#ff7f0e"/>
</g>
<rect x="383.4" y="166.6" width="128.2" height="52.8" fill="none" stroke="#4d4d4d" stroke-width="0.85"/>
<text x="378.4" y="212.85" text-anchor="end" class="tl">−10</text>
<text x="378.4" y="195.4" text-anchor="end" class="tl">0</text>
<text x="378.4" y="177.95" text-anchor="end" class="tl">10</text>
<path d="M383.4,210.45h-2.4M383.4,193h-2.4M383.4,175.55h-2.4" stroke="#4d4d4d" stroke-width="0.75" fill="none"/>
<text transform="translate(360.1,193.3) rotate(-90)" class="th"><tspan x="-1.9" y="0">θ</tspan><tspan class="dt" x="-1.45" y="-5.0">··</tspan></text>
<clipPath id="k8"><rect x="383.4" y="229.8" width="128.2" height="52.2"/></clipPath>
<g clip-path="url(#k8)" fill="none" stroke-width="1.08" stroke-linejoin="round">
<polyline points="383.4,255.95 391.41,254.3 399.42,262.04 407.44,249.6 415.45,252.99 423.46,256.21 431.48,256.3 439.49,262.56 447.5,251.43 455.51,259.08 463.52,257.17 471.54,252.38 479.55,258.73 487.56,255.6 495.58,260.13 503.59,252.82 511.6,252.12" stroke="#1f77b4"/>
<polyline points="383.4,255.95 391.41,265.17 399.42,246.73 407.44,255.95 415.45,258.21 423.46,253.17 431.48,253.43 439.49,253.69 447.5,267.26 455.51,242.03 463.52,274.05 471.54,246.81 479.55,255.34 487.56,252.82 495.58,249.16 503.59,260.65 511.6,262.3" stroke="#ff7f0e"/>
</g>
<rect x="383.4" y="229.8" width="128.2" height="52.2" fill="none" stroke="#4d4d4d" stroke-width="0.85"/>
<text x="378.4" y="275.75" text-anchor="end" class="tl">−10</text>
<text x="378.4" y="258.35" text-anchor="end" class="tl">0</text>
<text x="378.4" y="240.95" text-anchor="end" class="tl">10</text>
<text x="383.4" y="291.8" text-anchor="middle" class="tl">0</text>
<text x="399.42" y="291.8" text-anchor="middle" class="tl">2</text>
<text x="415.45" y="291.8" text-anchor="middle" class="tl">4</text>
<text x="431.48" y="291.8" text-anchor="middle" class="tl">6</text>
<text x="447.5" y="291.8" text-anchor="middle" class="tl">8</text>
<text x="463.52" y="291.8" text-anchor="middle" class="tl">10</text>
<text x="479.55" y="291.8" text-anchor="middle" class="tl">12</text>
<text x="495.58" y="291.8" text-anchor="middle" class="tl">14</text>
<text x="511.6" y="291.8" text-anchor="middle" class="tl">16</text>
<path d="M383.4,273.35h-2.4M383.4,255.95h-2.4M383.4,238.55h-2.4M383.4,282v2.2M399.42,282v2.2M415.45,282v2.2M431.48,282v2.2M447.5,282v2.2M463.52,282v2.2M479.55,282v2.2M495.58,282v2.2M511.6,282v2.2" stroke="#4d4d4d" stroke-width="0.75" fill="none"/>
<text transform="translate(360.1,256.2) rotate(-90)" class="th"><tspan x="-1.9" y="0">θ</tspan><tspan class="dt" x="-2.13" y="-5.0">···</tspan></text>
<rect x="515.2" y="181.1" width="31.2" height="23.2" rx="1.4" fill="#fff" stroke="#d0d0d0" stroke-width="0.7"/>
<path d="M517.6,187.4H531.8" stroke="#1f77b4" stroke-width="1.15"/>
<path d="M517.6,198.2H531.8" stroke="#ff7f0e" stroke-width="1.15"/>
<text x="537.1" y="189.8" class="lg">L<tspan class="sb" dy="1.2">1</tspan></text>
<text x="537.1" y="200.6" class="lg">L<tspan class="sb" dy="1.2">2</tspan></text>
<clipPath id="c2"><rect x="16.4" y="333.7" width="111.7" height="110.9"/></clipPath>
<g clip-path="url(#c2)">
<path d="M16.4,324.46 A121.01,120.14 0 0 1 137.41,444.6 L54.56,444.6 A38.16,37.89 0 0 0 16.4,406.71 Z" fill="#e8e8e8"/>
<polygon points="54.8,339.4 64,349.4 53.6,358.4 44.8,347.9" fill="#808080"/>
<polygon points="103.6,346.3 129.1,363.2 125,369.6 99.5,352.7" fill="#808080"/>
<polygon points="82.6,372.5 91.1,372.7 90.8,381.5 99.1,382.2 98.7,390.5 81.2,389.3" fill="#808080"/>
<polygon points="41.4,388.6 48.5,385.4 54.2,399.4 40.2,405.1 37.1,398.4 44,395.3" fill="#808080"/>
<polygon points="61.4,417 71.1,426.2 61.2,435.8 51.9,426.2" fill="#808080"/>
<polygon points="120.8,399.6 128.6,404.4 108.9,434.1 101.7,429.2" fill="#808080"/>
<path d="M23.85,400.24h0M23.85,398.39h0M23.85,396.54h0M23.85,394.69h0M23.85,392.85h0M25.71,402.09h0M25.71,391h0M25.71,389.15h0M25.71,387.3h0M25.71,385.45h0M25.71,383.61h0M25.71,381.76h0M25.71,379.91h0M25.71,378.06h0M25.71,376.21h0M25.71,374.36h0M25.71,372.51h0M25.71,370.67h0M25.71,368.82h0M25.71,366.97h0M25.71,365.12h0M25.71,363.27h0M25.71,361.43h0M25.71,359.58h0M25.71,357.73h0M25.71,355.88h0M25.71,354.03h0M25.71,352.18h0M25.71,350.33h0M25.71,348.49h0M25.71,346.64h0M25.71,344.79h0M27.57,403.94h0M27.57,383.61h0M27.57,381.76h0M27.57,379.91h0M27.57,378.06h0M27.57,376.21h0M27.57,374.36h0M27.57,372.51h0M27.57,370.67h0M27.57,368.82h0M27.57,366.97h0M27.57,365.12h0M27.57,363.27h0M27.57,361.43h0M27.57,359.58h0M27.57,357.73h0M27.57,355.88h0M27.57,354.03h0M27.57,352.18h0M27.57,350.33h0M27.57,348.49h0M27.57,346.64h0M27.57,344.79h0M29.43,405.78h0M29.43,381.76h0M29.43,379.91h0M29.43,378.06h0M29.43,376.21h0M29.43,374.36h0M29.43,372.51h0M29.43,370.67h0M29.43,368.82h0M29.43,366.97h0M29.43,365.12h0M29.43,363.27h0M29.43,361.43h0M29.43,359.58h0M29.43,357.73h0M29.43,355.88h0M29.43,354.03h0M29.43,352.18h0M29.43,350.33h0M29.43,348.49h0M29.43,346.64h0M29.43,344.79h0M31.29,407.63h0M31.29,379.91h0M31.29,378.06h0M31.29,376.21h0M31.29,374.36h0M31.29,372.51h0M31.29,370.67h0M31.29,368.82h0M31.29,366.97h0M31.29,365.12h0M31.29,363.27h0M31.29,361.43h0M31.29,359.58h0M31.29,357.73h0M31.29,355.88h0M31.29,354.03h0M31.29,352.18h0M31.29,350.33h0M31.29,348.49h0M31.29,346.64h0M31.29,344.79h0M33.16,409.48h0M33.16,378.06h0M33.16,376.21h0M33.16,374.36h0M33.16,372.51h0M33.16,370.67h0M33.16,368.82h0M33.16,366.97h0M33.16,365.12h0M33.16,363.27h0M33.16,361.43h0M33.16,359.58h0M33.16,357.73h0M33.16,355.88h0M33.16,354.03h0M33.16,352.18h0M33.16,350.33h0M33.16,348.49h0M33.16,346.64h0M35.02,411.33h0M35.02,378.06h0M35.02,376.21h0M35.02,374.36h0M35.02,372.51h0M35.02,370.67h0M35.02,368.82h0M35.02,366.97h0M35.02,365.12h0M35.02,363.27h0M35.02,361.43h0M35.02,359.58h0M35.02,357.73h0M35.02,355.88h0M35.02,354.03h0M35.02,352.18h0M35.02,350.33h0M35.02,344.79h0M36.88,413.18h0M36.88,376.21h0M36.88,374.36h0M36.88,372.51h0M36.88,370.67h0M36.88,368.82h0M36.88,366.97h0M36.88,365.12h0M36.88,363.27h0M36.88,361.43h0M36.88,359.58h0M36.88,357.73h0M36.88,355.88h0M36.88,354.03h0M36.88,342.94h0M38.74,415.03h0M38.74,374.36h0M38.74,372.51h0M38.74,370.67h0M38.74,368.82h0M38.74,366.97h0M38.74,365.12h0M38.74,363.27h0M38.74,361.43h0M38.74,359.58h0M38.74,357.73h0M38.74,342.94h0M40.6,415.03h0M40.6,374.36h0M40.6,372.51h0M40.6,370.67h0M40.6,368.82h0M40.6,366.97h0M40.6,365.12h0M40.6,363.27h0M40.6,361.43h0M40.6,342.94h0M42.46,416.88h0M42.46,372.51h0M42.46,370.67h0M42.46,368.82h0M42.46,366.97h0M42.46,365.12h0M42.46,363.27h0M42.46,341.09h0M44.32,372.51h0M44.32,370.67h0M44.32,368.82h0M44.32,366.97h0M44.32,341.09h0M46.19,370.67h0M46.19,341.09h0M48.05,372.51h0M48.05,339.25h0M49.91,372.51h0M49.91,339.25h0M51.77,372.51h0M51.77,337.4h0M53.63,444.6h0M53.63,442.75h0M53.63,440.9h0M53.63,439.06h0M53.63,437.21h0M53.63,374.36h0M53.63,337.4h0M55.49,374.36h0M55.49,335.55h0M57.36,374.36h0M59.22,372.51h0M61.08,374.36h0M61.08,372.51h0M61.08,370.67h0M62.94,378.06h0M62.94,376.21h0M62.94,374.36h0M62.94,372.51h0M62.94,370.67h0M62.94,368.82h0M64.8,440.9h0M64.8,379.91h0M64.8,378.06h0M64.8,376.21h0M64.8,374.36h0M64.8,372.51h0M64.8,370.67h0M64.8,368.82h0M64.8,366.97h0M64.8,337.4h0M66.66,440.9h0M66.66,391h0M66.66,389.15h0M66.66,387.3h0M66.66,385.45h0M66.66,383.61h0M66.66,381.76h0M66.66,378.06h0M66.66,376.21h0M66.66,374.36h0M66.66,372.51h0M66.66,366.97h0M66.66,339.25h0M68.53,440.9h0M68.53,396.54h0M68.53,394.69h0M68.53,392.85h0M68.53,365.12h0M68.53,341.09h0M70.39,440.9h0M70.39,405.78h0M70.39,403.94h0M70.39,402.09h0M70.39,398.39h0M70.39,363.27h0M70.39,342.94h0M72.25,439.06h0M72.25,405.78h0M72.25,403.94h0M72.25,402.09h0M72.25,400.24h0M72.25,361.43h0M72.25,344.79h0M74.11,439.06h0M74.11,407.63h0M74.11,405.78h0M74.11,403.94h0M74.11,359.58h0M74.11,346.64h0M75.97,439.06h0M75.97,409.48h0M75.97,407.63h0M75.97,405.78h0M75.97,357.73h0M75.97,348.49h0M77.83,439.06h0M77.83,413.18h0M77.83,411.33h0M77.83,409.48h0M77.83,407.63h0M77.83,355.88h0M77.83,352.18h0M77.83,350.33h0M79.7,437.21h0M79.7,415.03h0M79.7,413.18h0M79.7,411.33h0M79.7,409.48h0M79.7,407.63h0M79.7,354.03h0M81.56,437.21h0M81.56,416.88h0M81.56,415.03h0M81.56,413.18h0M81.56,411.33h0M81.56,409.48h0M81.56,407.63h0M81.56,355.88h0M83.42,435.36h0M83.42,418.72h0M83.42,416.88h0M83.42,415.03h0M83.42,413.18h0M83.42,411.33h0M83.42,409.48h0M83.42,407.63h0M83.42,355.88h0M85.28,435.36h0M85.28,433.51h0M85.28,431.66h0M85.28,429.81h0M85.28,427.96h0M85.28,426.12h0M85.28,420.57h0M85.28,418.72h0M85.28,416.88h0M85.28,415.03h0M85.28,413.18h0M85.28,411.33h0M85.28,409.48h0M85.28,407.63h0M85.28,357.73h0M87.14,437.21h0M87.14,424.27h0M87.14,422.42h0M87.14,420.57h0M87.14,418.72h0M87.14,416.88h0M87.14,415.03h0M87.14,413.18h0M87.14,411.33h0M87.14,409.48h0M87.14,407.63h0M87.14,357.73h0M89,437.21h0M89,418.72h0M89,416.88h0M89,415.03h0M89,413.18h0M89,411.33h0M89,409.48h0M89,407.63h0M89,359.58h0M90.87,439.06h0M90.87,416.88h0M90.87,415.03h0M90.87,413.18h0M90.87,411.33h0M90.87,409.48h0M90.87,407.63h0M90.87,361.43h0M92.73,439.06h0M92.73,415.03h0M92.73,413.18h0M92.73,411.33h0M92.73,409.48h0M92.73,407.63h0M92.73,363.27h0M94.59,439.06h0M94.59,411.33h0M94.59,409.48h0M94.59,407.63h0M94.59,363.27h0M96.45,440.9h0M96.45,409.48h0M96.45,407.63h0M96.45,363.27h0M98.31,440.9h0M100.17,440.9h0M113.21,387.3h0M115.07,387.3h0M116.93,387.3h0M118.79,389.15h0M118.79,387.3h0M120.65,440.9h0M120.65,389.15h0M122.51,439.06h0M122.51,437.21h0M122.51,435.36h0M122.51,433.51h0M122.51,391h0M124.38,431.66h0M124.38,429.81h0M124.38,427.96h0M124.38,426.12h0M124.38,424.27h0M124.38,392.85h0M124.38,391h0M126.24,422.42h0" stroke="#808080" stroke-opacity="0.8" stroke-width="0.9" stroke-linecap="round" fill="none"/>
<polyline points="44.4,417.3 52.7,412.1 63.1,405.6 68.2,406.2 74,408.2 96.2,408.2 102.3,403.5 109.7,396.1 113.1,391.4 113.3,386 111,378.5 105,372.4 98.3,367.3" fill="none" stroke="#2a3fb0" stroke-width="1.2" stroke-linejoin="round"/>
<circle cx="98.3" cy="367" r="3.6" fill="#ee1c25"/>
<circle cx="44.5" cy="417" r="3.6" fill="#0b8a3c"/>
<polyline points="44.4,417.3 49.38,414.18" fill="none" stroke="#2a3fb0" stroke-width="1.2"/>
<polyline points="98.3,367.3 102.32,370.36" fill="none" stroke="#2a3fb0" stroke-width="1.2"/>
</g>
<rect x="16.4" y="333.7" width="111.7" height="110.9" fill="none" stroke="#4d4d4d" stroke-width="0.85"/>
<text x="11.9" y="447" text-anchor="end" class="tl">0</text>
<text x="11.9" y="428.52" text-anchor="end" class="tl">10</text>
<text x="11.9" y="410.03" text-anchor="end" class="tl">20</text>
<text x="11.9" y="391.55" text-anchor="end" class="tl">30</text>
<text x="11.9" y="373.07" text-anchor="end" class="tl">40</text>
<text x="11.9" y="354.58" text-anchor="end" class="tl">50</text>
<text x="11.9" y="336.1" text-anchor="end" class="tl">60</text>
<text x="16.4" y="454.3" text-anchor="middle" class="tl">0</text>
<text x="53.63" y="454.3" text-anchor="middle" class="tl">20</text>
<text x="90.87" y="454.3" text-anchor="middle" class="tl">40</text>
<text x="128.1" y="454.3" text-anchor="middle" class="tl">60</text>
<path d="M16.4,444.6h-2.4M16.4,426.12h-2.4M16.4,407.63h-2.4M16.4,389.15h-2.4M16.4,370.67h-2.4M16.4,352.18h-2.4M16.4,333.7h-2.4M16.4,444.6v2.4M53.63,444.6v2.4M90.87,444.6v2.4M128.1,444.6v2.4" stroke="#4d4d4d" stroke-width="0.75" fill="none"/>
<clipPath id="k9"><rect x="203.8" y="330.7" width="128.1" height="52.8"/></clipPath>
<g clip-path="url(#k9)" fill="none" stroke-width="1.08" stroke-linejoin="round">
<polyline points="203.8,341.1 210.8,341.1 219.1,343.9 231.8,347.7 247.1,350.3 257.3,353.5 265,355.5 277.7,359.8 289.2,364 296.8,367.7 304.5,370.6 309.5,371.5 318.5,370.9 324.8,370.3 331.9,369.1" stroke="#ff7f0e"/>
<polyline points="203.8,392 273.9,383.4 281.5,382.1 290.5,379.9 300.6,377 308.3,375.3 315.9,374.7 323.5,374.1 331.9,373.4" stroke="#1f77b4"/>
</g>
<rect x="203.8" y="330.7" width="128.1" height="52.8" fill="none" stroke="#4d4d4d" stroke-width="0.85"/>
<text x="198.8" y="383.3" text-anchor="end" class="tl">0</text>
<text x="198.8" y="355.1" text-anchor="end" class="tl">100</text>
<path d="M203.8,380.9h-2.4M203.8,352.7h-2.4" stroke="#4d4d4d" stroke-width="0.75" fill="none"/>
<text transform="translate(182,357.4) rotate(-90)" class="th"><tspan x="-1.9" y="0">θ</tspan></text>
<clipPath id="k10"><rect x="203.8" y="393.9" width="128.1" height="52.2"/></clipPath>
<g clip-path="url(#k10)" fill="none" stroke-width="1.08" stroke-linejoin="round">
<polyline points="203.8,420.05 210.92,422.57 218.03,419.79 225.15,417.88 232.27,416.92 239.38,422.31 246.5,424.23 253.62,420.05 260.73,418.48 267.85,416.92 274.97,411.18 282.08,412.22 289.2,411.35 296.32,407.35 303.43,406.22 310.55,410.91 317.67,417 324.78,416.92 331.9,417.88" stroke="#1f77b4"/>
<polyline points="203.8,420.05 210.92,422.31 218.03,431.88 225.15,432.06 232.27,432.49 239.38,428.4 246.5,426.84 253.62,433.1 260.73,433.97 267.85,435.27 274.97,436.67 282.08,433.97 289.2,435.27 296.32,441.8 303.43,437.62 310.55,429.27 317.67,415.35 324.78,416.92 331.9,411.78" stroke="#ff7f0e"/>
</g>
<rect x="203.8" y="393.9" width="128.1" height="52.2" fill="none" stroke="#4d4d4d" stroke-width="0.85"/>
<text x="198.8" y="439.85" text-anchor="end" class="tl">−10</text>
<text x="198.8" y="422.45" text-anchor="end" class="tl">0</text>
<text x="198.8" y="405.05" text-anchor="end" class="tl">10</text>
<text x="203.8" y="455.9" text-anchor="middle" class="tl">0</text>
<text x="218.03" y="455.9" text-anchor="middle" class="tl">2</text>
<text x="232.27" y="455.9" text-anchor="middle" class="tl">4</text>
<text x="246.5" y="455.9" text-anchor="middle" class="tl">6</text>
<text x="260.73" y="455.9" text-anchor="middle" class="tl">8</text>
<text x="274.97" y="455.9" text-anchor="middle" class="tl">10</text>
<text x="289.2" y="455.9" text-anchor="middle" class="tl">12</text>
<text x="303.43" y="455.9" text-anchor="middle" class="tl">14</text>
<text x="317.67" y="455.9" text-anchor="middle" class="tl">16</text>
<text x="331.9" y="455.9" text-anchor="middle" class="tl">18</text>
<path d="M203.8,437.45h-2.4M203.8,420.05h-2.4M203.8,402.65h-2.4M203.8,446.1v2.2M218.03,446.1v2.2M232.27,446.1v2.2M246.5,446.1v2.2M260.73,446.1v2.2M274.97,446.1v2.2M289.2,446.1v2.2M303.43,446.1v2.2M317.67,446.1v2.2M331.9,446.1v2.2" stroke="#4d4d4d" stroke-width="0.75" fill="none"/>
<text transform="translate(180.5,420.3) rotate(-90)" class="th"><tspan x="-1.9" y="0">θ</tspan><tspan class="dt" x="-0.78" y="-5.0">·</tspan></text>
<clipPath id="k11"><rect x="383.4" y="330.7" width="128.2" height="52.8"/></clipPath>
<g clip-path="url(#k11)" fill="none" stroke-width="1.08" stroke-linejoin="round">
<polyline points="383.4,357.1 390.52,359.54 397.64,353.96 404.77,355.44 411.89,356.31 419.01,362.42 426.13,359.28 433.26,352.91 440.38,355.44 447.5,355.44 454.62,351.34 461.74,357.62 468.87,356.31 475.99,352.65 483.11,356.75 490.23,361.81 497.36,363.47 504.48,356.75 511.6,358.67" stroke="#1f77b4"/>
<polyline points="383.4,357.1 390.52,359.28 397.64,366.52 404.77,357.36 411.89,357.62 419.01,352.91 426.13,355.44 433.26,363.29 440.38,358.23 447.5,358.5 454.62,358.32 461.74,354.48 468.87,358.32 475.99,363.29 483.11,351.87 490.23,347.85 497.36,344.01 504.48,358.23 511.6,351.87" stroke="#ff7f0e"/>
</g>
<rect x="383.4" y="330.7" width="128.2" height="52.8" fill="none" stroke="#4d4d4d" stroke-width="0.85"/>
<text x="378.4" y="376.95" text-anchor="end" class="tl">−10</text>
<text x="378.4" y="359.5" text-anchor="end" class="tl">0</text>
<text x="378.4" y="342.05" text-anchor="end" class="tl">10</text>
<path d="M383.4,374.55h-2.4M383.4,357.1h-2.4M383.4,339.65h-2.4" stroke="#4d4d4d" stroke-width="0.75" fill="none"/>
<text transform="translate(360.1,357.4) rotate(-90)" class="th"><tspan x="-1.9" y="0">θ</tspan><tspan class="dt" x="-1.45" y="-5.0">··</tspan></text>
<clipPath id="k12"><rect x="383.4" y="393.9" width="128.2" height="52.2"/></clipPath>
<g clip-path="url(#k12)" fill="none" stroke-width="1.08" stroke-linejoin="round">
<polyline points="383.4,420.05 390.52,422.31 397.64,413.79 404.77,421.36 411.89,420.05 419.01,426.14 426.13,416.66 433.26,413.7 440.38,422.31 447.5,420.14 454.62,415.7 461.74,425.88 468.87,418.48 475.99,416.22 483.11,423.01 490.23,425.53 497.36,421.09 504.48,412.83 511.6,421.44" stroke="#1f77b4"/>
<polyline points="383.4,420.05 390.52,422.57 397.64,427.44 404.77,410.31 411.89,420.05 419.01,415.35 426.13,422.31 433.26,427.71 440.38,415 447.5,420.4 454.62,420.05 461.74,415.61 468.87,424.23 475.99,424.23 483.11,409.61 490.23,415.35 497.36,415.7 504.48,434.4 511.6,413.44" stroke="#ff7f0e"/>
</g>
<rect x="383.4" y="393.9" width="128.2" height="52.2" fill="none" stroke="#4d4d4d" stroke-width="0.85"/>
<text x="378.4" y="439.85" text-anchor="end" class="tl">−10</text>
<text x="378.4" y="422.45" text-anchor="end" class="tl">0</text>
<text x="378.4" y="405.05" text-anchor="end" class="tl">10</text>
<text x="383.4" y="455.9" text-anchor="middle" class="tl">0</text>
<text x="397.64" y="455.9" text-anchor="middle" class="tl">2</text>
<text x="411.89" y="455.9" text-anchor="middle" class="tl">4</text>
<text x="426.13" y="455.9" text-anchor="middle" class="tl">6</text>
<text x="440.38" y="455.9" text-anchor="middle" class="tl">8</text>
<text x="454.62" y="455.9" text-anchor="middle" class="tl">10</text>
<text x="468.87" y="455.9" text-anchor="middle" class="tl">12</text>
<text x="483.11" y="455.9" text-anchor="middle" class="tl">14</text>
<text x="497.36" y="455.9" text-anchor="middle" class="tl">16</text>
<text x="511.6" y="455.9" text-anchor="middle" class="tl">18</text>
<path d="M383.4,437.45h-2.4M383.4,420.05h-2.4M383.4,402.65h-2.4M383.4,446.1v2.2M397.64,446.1v2.2M411.89,446.1v2.2M426.13,446.1v2.2M440.38,446.1v2.2M454.62,446.1v2.2M468.87,446.1v2.2M483.11,446.1v2.2M497.36,446.1v2.2M511.6,446.1v2.2" stroke="#4d4d4d" stroke-width="0.75" fill="none"/>
<text transform="translate(360.1,420.3) rotate(-90)" class="th"><tspan x="-1.9" y="0">θ</tspan><tspan class="dt" x="-2.13" y="-5.0">···</tspan></text>
<rect x="515.2" y="345.2" width="31.2" height="23.2" rx="1.4" fill="#fff" stroke="#d0d0d0" stroke-width="0.7"/>
<path d="M517.6,351.5H531.8" stroke="#1f77b4" stroke-width="1.15"/>
<path d="M517.6,362.3H531.8" stroke="#ff7f0e" stroke-width="1.15"/>
<text x="537.1" y="353.9" class="lg">L<tspan class="sb" dy="1.2">1</tspan></text>
<text x="537.1" y="364.7" class="lg">L<tspan class="sb" dy="1.2">2</tspan></text>
<text x="81.6" y="149.8" text-anchor="middle" class="cap">(<tspan font-weight="bold">a</tspan>)</text>
<text x="359.5" y="149.7" text-anchor="middle" class="cap">(<tspan font-weight="bold">b</tspan>)</text>
<text x="81.6" y="313.9" text-anchor="middle" class="cap">(<tspan font-weight="bold">c</tspan>)</text>
<text x="359.5" y="313.8" text-anchor="middle" class="cap">(<tspan font-weight="bold">d</tspan>)</text>
<text x="81.6" y="478" text-anchor="middle" class="cap">(<tspan font-weight="bold">e</tspan>)</text>
<text x="359.5" y="477.9" text-anchor="middle" class="cap">(<tspan font-weight="bold">f</tspan>)</text>
</svg>
</body></html>
